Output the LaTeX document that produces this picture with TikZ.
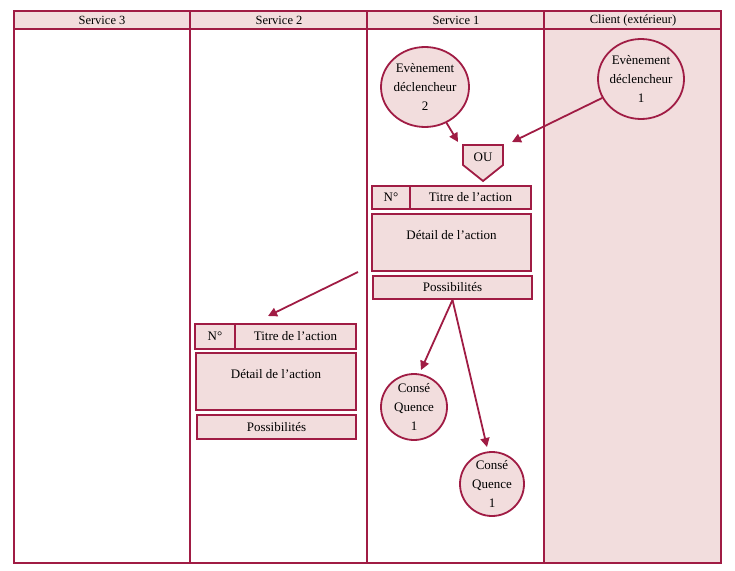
\documentclass[tikz,border=0pt]{standalone}
\usepackage{fontspec}
\setmainfont{Liberation Serif}
\usetikzlibrary{arrows.meta,shapes.geometric}
\definecolor{bord}{RGB}{160,28,68}
\definecolor{rose}{RGB}{242,221,221}
\tikzset{
  lane/.style={draw=bord,line width=1.4pt},
  boite/.style={draw=bord,fill=rose,line width=1.8pt,inner sep=0pt,font=\fontsize{13}{14}\selectfont},
  evt/.style={boite,ellipse,align=center,font=\fontsize{13}{19}\selectfont},
  fl/.style={draw=bord,line width=1.8pt,-{Triangle[length=9pt,width=9pt]}}
}
\begin{document}
\begin{tikzpicture}[x=1pt,y=-1pt]
 \useasboundingbox (0,0) rectangle (735,570);
 % couloirs
 \fill[rose] (544,11) rectangle (721,563);
 \fill[rose] (14,11) rectangle (721,29);
 \draw[lane] (14,11) rectangle (721,563);
 \draw[lane] (14,29) -- (721,29);
 \foreach \x in {190,367,544} \draw[lane] (\x,11) -- (\x,563);
 \foreach \x/\t in {102/Service 3,279/Service 2,456/Service 1,633/Client (extérieur)}
  \node[font=\fontsize{12.5}{13}\selectfont] at (\x,20) {\t};

 % service 1
 \node[evt,minimum width=88,minimum height=80,inner sep=-4pt] (ev2) at (425,87) {Evènement\\déclencheur\\2};
 \node[evt,minimum width=86,minimum height=80,inner sep=-4pt] (ev1) at (641,79) {Evènement\\déclencheur\\1};
 \draw[boite] (463,145) -- (503,145) -- (503,165) -- (483,181) -- (463,165) -- cycle;
 \node[font=\fontsize{13}{14}\selectfont] (ou) at (483,157) {OU};
 \coordinate (ouN1) at (458,142);
 \coordinate (ouN2) at (512,142);

 \node[boite,minimum width=38,minimum height=23] (num1) at (391,197.5) {N°};
 \node[boite,minimum width=121,minimum height=23] (titre1) at (470.5,197.5) {Titre de l’action};
 \node[boite,minimum width=159,minimum height=57,text depth=16] (det1) at (451.5,242.5) {Détail de l’action};
 \node[boite,minimum width=159,minimum height=23] (poss1) at (452.5,287.5) {Possibilités};

 % service 2
 \node[boite,minimum width=40,minimum height=25] (num2) at (215,336.5) {N°};
 \node[boite,minimum width=121,minimum height=25] (titre2) at (295.5,336.5) {Titre de l’action};
 \node[boite,minimum width=160,minimum height=57,text depth=16] (det2) at (276,381.5) {Détail de l’action};
 \node[boite,minimum width=159,minimum height=24] (poss2) at (276.5,427) {Possibilités};

 % conséquences
 \node[evt,circle,minimum size=66,inner sep=-6pt] (csq1) at (414,407) {Consé\\Quence\\1};
 \node[evt,circle,minimum size=64,inner sep=-6pt] (csq2) at (492,484) {Consé\\Quence\\1};

 \coordinate (dep) at (358,272);
 \coordinate (arr) at (268,316);
 \coordinate (c1) at (421,370);
 \coordinate (c2) at (487,447);
 \draw[fl] (ev2) -- (ouN1);
 \draw[fl] (ev1) -- (ouN2);
 \draw[fl] (dep) -- (arr);
 \draw[fl] (poss1.south) -- (c1);
 \draw[fl] (poss1.south) -- (c2);
\end{tikzpicture}
\end{document}
